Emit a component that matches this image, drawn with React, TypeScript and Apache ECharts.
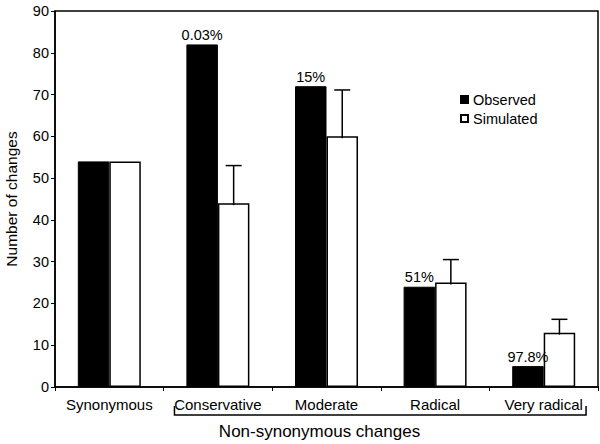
import React, { useEffect, useRef } from "react";
import * as echarts from "echarts";

const categories = ["Synonymous", "Conservative", "Moderate", "Radical", "Very radical"];
const observed = [54, 82, 72, 24, 5];
const simulated = [54, 44, 60, 25, 13];
const simulatedUpper: (number | null)[] = [null, 53, 71.1, 30.5, 16.2];
const observedLabels = ["", "0.03%", "15%", "51%", "97.8%"];
const yTicks = { min: 0, max: 90, interval: 10 };
const xTitle = "Non-synonymous changes";
const yTitle = "Number of changes";

const FONT = "'Liberation Sans', Arial, Helvetica, sans-serif";
const BAR_FRAC = 0.29;

export default function App() {
  const ref = useRef<HTMLDivElement>(null);
  useEffect(() => {
    if (!ref.current) return;
    const chart = echarts.init(ref.current, undefined, { renderer: "svg" });
    const errData = simulatedUpper
      .map((u, i) => (u == null ? null : [i, simulated[i], u]))
      .filter((d) => d != null);
    chart.setOption({
      animation: false,
      textStyle: { fontFamily: FONT, color: "#000" },
      grid: {
        left: 55,
        right: 2,
        top: 11,
        bottom: 57,
        containLabel: false,
        outerBoundsMode: "none",
        show: true,
        borderColor: "#000",
        borderWidth: 1.5,
        backgroundColor: "transparent",
      },
      legend: {
        data: ["Observed", "Simulated"],
        orient: "vertical",
        left: 455,
        top: 87,
        itemWidth: 7,
        itemHeight: 7,
        itemGap: 4,
        icon: "rect",
        textStyle: { fontSize: 14.5, color: "#000", fontFamily: FONT },
      },
      xAxis: {
        type: "category",
        data: categories,
        name: xTitle,
        nameLocation: "middle",
        nameGap: 36,
        nameTextStyle: { fontSize: 17, color: "#000", fontFamily: FONT, padding: [0, 14, 0, 0] },
        axisLine: { lineStyle: { color: "#000", width: 1.5 } },
        axisTick: { show: true, length: 4, lineStyle: { color: "#000", width: 1 } },
        axisLabel: { fontSize: 15, color: "#000", margin: 10, interval: 0, fontFamily: FONT },
        splitLine: { show: false },
      },
      yAxis: {
        type: "value",
        min: yTicks.min,
        max: yTicks.max,
        interval: yTicks.interval,
        name: yTitle,
        nameLocation: "middle",
        nameGap: 36,
        nameTextStyle: { fontSize: 15.5, color: "#000", fontFamily: FONT },
        axisLine: { show: true, lineStyle: { color: "#000", width: 1.5 } },
        axisTick: { show: true, length: 4, lineStyle: { color: "#000", width: 1 } },
        axisLabel: { fontSize: 14.5, color: "#000", margin: 6, fontFamily: FONT },
        splitLine: { show: false },
      },
      series: [
        {
          name: "Observed",
          type: "bar",
          data: observed,
          barWidth: BAR_FRAC * 100 + "%",
          barGap: "0%",
          itemStyle: { color: "#000", borderColor: "#000", borderWidth: 1 },
          label: {
            show: true,
            position: "top",
            distance: 2,
            fontSize: 14.5,
            color: "#000",
            fontFamily: FONT,
            formatter: (p: any) => observedLabels[p.dataIndex],
          },
        },
        {
          name: "Simulated",
          type: "bar",
          data: simulated,
          barWidth: BAR_FRAC * 100 + "%",
          barGap: "0%",
          itemStyle: { color: "#fff", borderColor: "#000", borderWidth: 1.5 },
        },
        {
          name: "err",
          type: "custom",
          data: errData,
          encode: { x: 0, y: [1, 2] },
          z: 5,
          renderItem: (params: any, api: any) => {
            const idx = api.value(0);
            const lo = api.coord([idx, api.value(1)]);
            const hi = api.coord([idx, api.value(2)]);
            const bw = api.size([1, 0])[0] * BAR_FRAC;
            const x = lo[0] + bw / 2;
            const half = 8;
            const style = { stroke: "#000", lineWidth: 1.5, fill: null };
            return {
              type: "group",
              children: [
                { type: "line", shape: { x1: x, y1: lo[1] + 2, x2: x, y2: hi[1] }, style },
                { type: "line", shape: { x1: x - half, y1: hi[1], x2: x + half, y2: hi[1] }, style },
              ],
            };
          },
        },
      ],
    });

    const c0 = chart.convertToPixel({ xAxisIndex: 0 }, 0) as number;
    const c1 = chart.convertToPixel({ xAxisIndex: 0 }, 1) as number;
    const c4 = chart.convertToPixel({ xAxisIndex: 0 }, 4) as number;
    const cw = c1 - c0;
    const y0 = chart.convertToPixel({ yAxisIndex: 0 }, 0) as number;
    const bx1 = c1 - cw / 2 + cw * 0.1;
    const bx2 = c4 + cw / 2 - cw * 0.11;
    const by = y0 + 28;
    chart.setOption({
      graphic: [
        {
          type: "polyline",
          shape: { points: [[bx1, by - 9], [bx1, by], [bx2, by], [bx2, by - 9]] },
          style: { stroke: "#000", lineWidth: 1.5, fill: null },
          silent: true,
        },
      ],
    });

    return () => chart.dispose();
  }, []);
  return (
    <div
      ref={ref}
      style={{ position: "fixed", left: 0, top: 0, width: 600, height: 444, background: "#fff" }}
    />
  );
}
